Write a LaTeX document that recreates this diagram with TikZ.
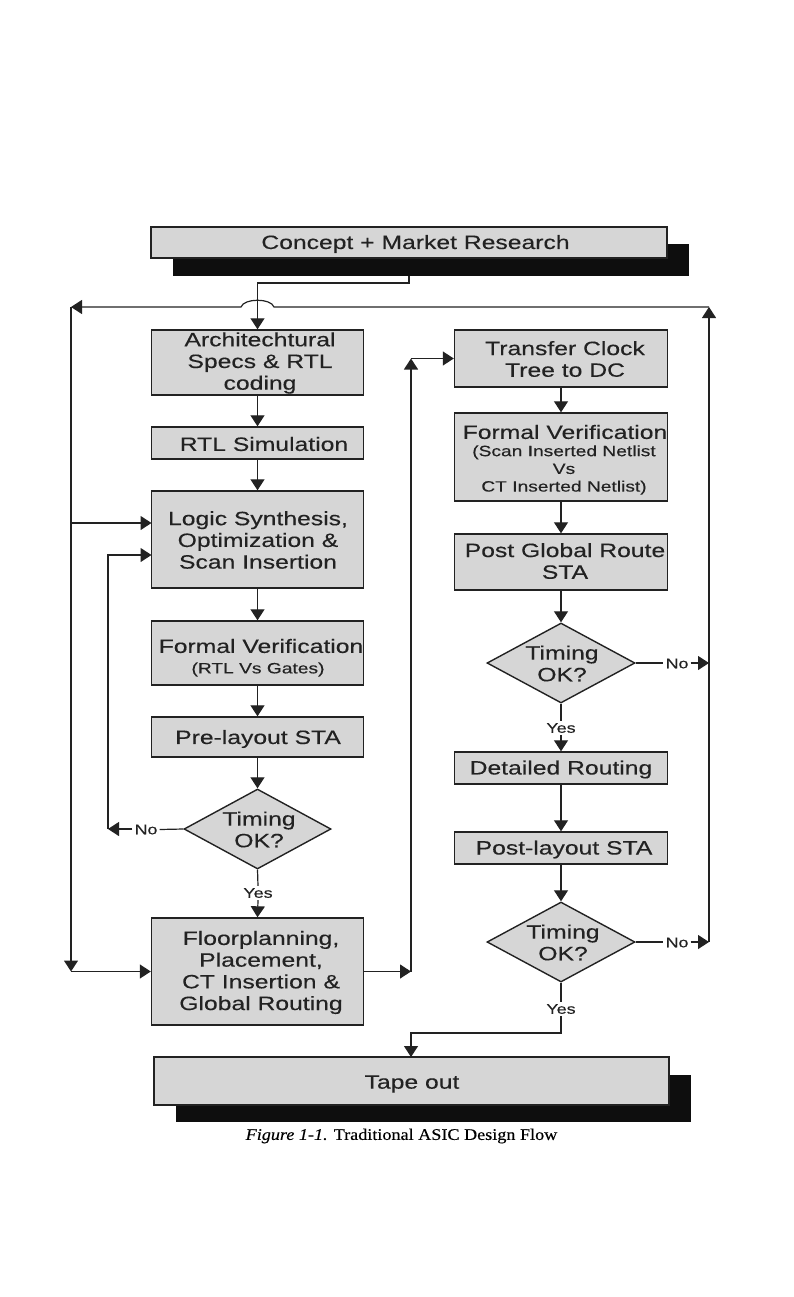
\documentclass[tikz,border=0pt]{standalone}
\usepackage{fontspec}
\setmainfont[FakeStretch=1.28,FakeBold=0.3]{Liberation Sans}
\newfontfamily\capfont[FakeStretch=1.12,FakeBold=0.3]{Liberation Serif}
\usetikzlibrary{arrows.meta,shapes.geometric}
\definecolor{ink}{HTML}{222222}
\definecolor{boxfill}{HTML}{D6D6D6}
\definecolor{shade}{HTML}{0E0E0E}
\tikzset{
  pbox/.style={draw=ink,line width=1.4pt,fill=boxfill,rectangle,inner sep=0pt},
  shadowbox/.style={draw=none,fill=shade,rectangle,inner sep=0pt},
  dbox/.style={draw=ink,line width=1.4pt,fill=boxfill,diamond,inner sep=0pt,aspect=1.84},
  big/.style={text=ink,inner sep=0pt,align=center,font=\fontsize{19.3}{21.7}\selectfont},
  mid/.style={text=ink,inner sep=0pt,align=center,font=\fontsize{15}{17.7}\selectfont},
  lab/.style={text=ink,inner sep=2pt,font=\fontsize{14}{16}\selectfont},
  wire/.style={draw=ink,line width=1.2pt},
  arr/.style={wire,-{Triangle[length=11pt,width=14pt]}},
}
\begin{document}
\begin{tikzpicture}[x=1pt,y=-1pt]
\useasboundingbox (0,0) rectangle (793,1297);
% boxes
\node[shadowbox,minimum width=516pt,minimum height=32pt] (cshadow) at (431,260) {};
\node[pbox,minimum width=516pt,minimum height=31pt] (concept) at (409,242.5) {};
\node[pbox,minimum width=212pt,minimum height=65pt] (arch) at (257.5,362.5) {};
\node[pbox,minimum width=212pt,minimum height=32pt] (rtl) at (257.5,443) {};
\node[pbox,minimum width=212pt,minimum height=97pt] (logic) at (257.5,539.5) {};
\node[pbox,minimum width=212pt,minimum height=64pt] (formal) at (257.5,653) {};
\node[pbox,minimum width=212pt,minimum height=40pt] (pre) at (257.5,737) {};
\node[dbox,minimum width=147pt,minimum height=80pt] (d1) at (257.5,829) {};
\node[pbox,minimum width=212pt,minimum height=107pt] (floor) at (257.5,971.5) {};
\node[pbox,minimum width=213pt,minimum height=57pt] (transfer) at (561,358.5) {};
\node[pbox,minimum width=213pt,minimum height=88pt] (formalb) at (561,457) {};
\node[pbox,minimum width=213pt,minimum height=56pt] (pg) at (561,562) {};
\node[dbox,minimum width=148pt,minimum height=80pt] (d2) at (561,663) {};
\node[pbox,minimum width=213pt,minimum height=32pt] (det) at (561,768) {};
\node[pbox,minimum width=213pt,minimum height=32pt] (pl) at (561,848) {};
\node[dbox,minimum width=148pt,minimum height=80pt] (d3) at (561,942) {};
\node[shadowbox,minimum width=515pt,minimum height=47pt] (tshadow) at (433.5,1098.5) {};
\node[pbox,minimum width=515pt,minimum height=48pt] (tape) at (411.5,1081) {};
% texts
\node[big] (tconcept) at (415.5,244) {Concept + Market Research};
\node[big] (tarch) at (260,363) {Architechtural\\Specs \& RTL\\coding};
\node[big] (trtl) at (264,444) {RTL Simulation};
\node[big] (tlogic) at (258,540) {Logic Synthesis,\\Optimization \&\\Scan Insertion};
\node[big] (tformal) at (261,646) {Formal Verification};
\node[mid] (tformalsub) at (258,669.5) {(RTL Vs Gates)};
\node[big] (tpre) at (258,739) {Pre-layout STA};
\node[big] (td1) at (259,829.5) {Timing\\OK?};
\node[big] (tfloor) at (261,972.5) {Floorplanning,\\Placement,\\CT Insertion \&\\Global Routing};
\node[big] (ttransfer) at (565,359) {Transfer Clock\\Tree to DC};
\node[big] (tformalb) at (565,432) {Formal Verification};
\node[mid] (tformalbsub) at (564,470) {(Scan Inserted Netlist\\Vs\\CT Inserted Netlist)};
\node[big] (tpg) at (565,561) {Post Global Route\\STA};
\node[big] (td2) at (562,663.5) {Timing\\OK?};
\node[big] (tdet) at (561,769.5) {Detailed Routing};
\node[big] (tpl) at (564,849.5) {Post-layout STA};
\node[big] (td3) at (563,942.5) {Timing\\OK?};
\node[big] (ttape) at (412,1084) {Tape out};
\node[inner sep=0pt,font=\capfont\fontsize{16.2}{18}\selectfont,text=black] (cap) at (401.5,1136) {\textit{Figure 1-1.} Traditional ASIC Design Flow};
% labels on connectors
\node[lab] (no1) at (146,829.5) {No};
\node[lab] (yes1) at (258,893) {Yes};
\node[lab] (no2) at (677,663.5) {No};
\node[lab] (yes2) at (561,728) {Yes};
\node[lab] (no3) at (677,942.5) {No};
\node[lab] (yes3) at (561,1009) {Yes};
% waypoints
\coordinate (jog) at (257.5,283);
\coordinate (busR) at (709,307);
\coordinate (busL) at (71,307);
\coordinate (bumpR) at (274,307);
\coordinate (bumpL) at (241,307);
\coordinate (bumpRc) at (271,298);
\coordinate (bumpLc) at (244,298);
\coordinate (leftBot) at (71,971.5);
\coordinate (logicIn) at (151.5,523);
\coordinate (logicBack) at (151.5,555);
\coordinate (noCorner) at (108,829);
\coordinate (midBot) at (411,971.5);
\coordinate (midTop) at (411,358.5);
\coordinate (r2) at (709,663);
\coordinate (r3) at (709,942);
\coordinate (tapeJog) at (561,1033);
\coordinate (tapeIn) at (411,1057);
% connectors
\draw[arr] (concept.south |- cshadow.south) -- (concept.south |- jog) -- (jog) -- (arch.north);
\draw[arr] (arch.south) -- (rtl.north);
\draw[arr] (rtl.south) -- (logic.north);
\draw[arr] (logic.south) -- (formal.north);
\draw[arr] (formal.south) -- (pre.north);
\draw[arr] (pre.south) -- (d1.north);
\draw[wire] (d1.south) -- (yes1.north);
\draw[arr] (yes1.south) -- (floor.north);
\draw[wire] (d1.west) -- (no1.east);
\draw[arr] (no1.west |- d1.west) -- (noCorner);
\draw[arr] (noCorner) |- (logicBack);
\draw[arr] (floor.east) -- (midBot);
\draw[arr] (midBot) -- (midTop);
\draw[arr] (midTop) -- (transfer.west);
\draw[arr] (transfer.south) -- (formalb.north);
\draw[arr] (formalb.south) -- (pg.north);
\draw[arr] (pg.south) -- (d2.north);
\draw[wire] (d2.south) -- (yes2.north);
\draw[arr] (yes2.south) -- (det.north);
\draw[arr] (det.south) -- (pl.north);
\draw[arr] (pl.south) -- (d3.north);
\draw[wire] (d2.east) -- (d2.east -| no2.west);
\draw[arr] (no2.east |- d2.east) -- (r2);
\draw[wire] (d3.east) -- (d3.east -| no3.west);
\draw[arr] (no3.east |- d3.east) -- (r3);
\draw[arr] (r3) -- (busR);
\draw[arr] (busR) -- (bumpR) .. controls (bumpRc) and (bumpLc) .. (bumpL) -- (busL);
\draw[arr] (busL) -- (leftBot);
\draw[arr] (leftBot) -- (floor.west);
\draw[arr] (busL |- logicIn) -- (logicIn);
\draw[wire] (d3.south) -- (yes3.north);
\draw[arr] (yes3.south) -- (tapeJog) -- (tapeJog -| tapeIn) -- (tapeIn);
\end{tikzpicture}
\end{document}
